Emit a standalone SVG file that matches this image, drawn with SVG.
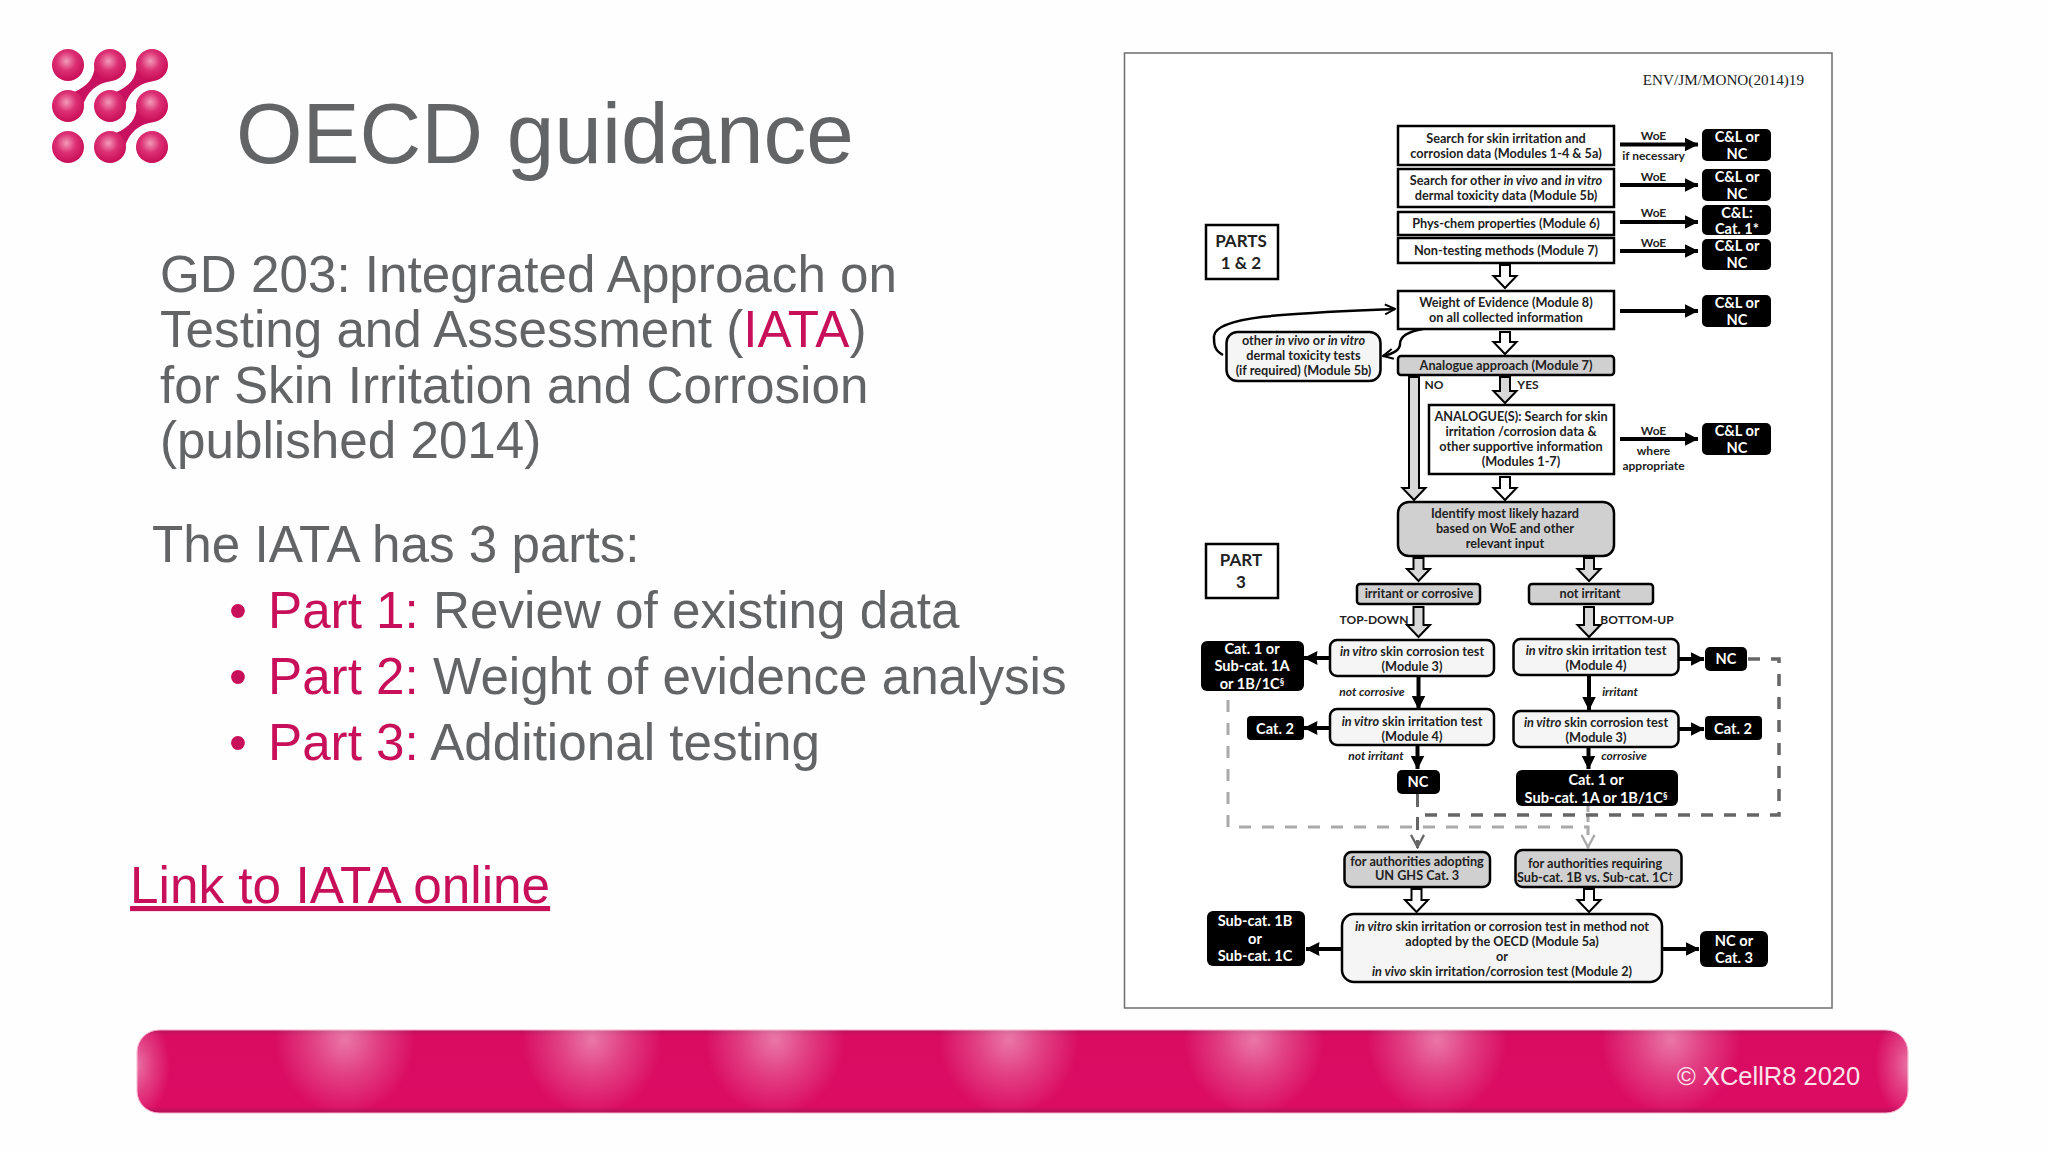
<svg xmlns="http://www.w3.org/2000/svg" width="2048" height="1152" viewBox="0 0 2048 1152">
<defs>
<radialGradient id="ball" cx="0.45" cy="0.38" r="0.6"><stop offset="0" stop-color="#f29ab8"/><stop offset="0.5" stop-color="#dc2f74"/><stop offset="1" stop-color="#c90f58"/></radialGradient>
<linearGradient id="barv" x1="0" y1="0" x2="0" y2="1"><stop offset="0" stop-color="#b9125a"/><stop offset="0.07" stop-color="#d90c62"/><stop offset="0.92" stop-color="#dc0c63"/><stop offset="1" stop-color="#b01258"/></linearGradient>
<radialGradient id="spot"><stop offset="0" stop-color="#fff" stop-opacity="0.44"/><stop offset="0.45" stop-color="#fff" stop-opacity="0.22"/><stop offset="1" stop-color="#fff" stop-opacity="0"/></radialGradient>
<clipPath id="barclip"><rect x="137" y="1030" width="1771" height="83" rx="22"/></clipPath>
<path id="lnk" d="M95 65C94 78 88 86 74 92L82 108C86 96 92 84 112 81Z" fill="#c8125f"/>
<marker id="solid" markerUnits="userSpaceOnUse" viewBox="0 0 14 14" refX="13.500" refY="7" markerWidth="14" markerHeight="14" orient="auto"><path d="M0 0L14 7L0 14L1 7Z" fill="#000"/></marker>
<marker id="open" markerUnits="userSpaceOnUse" viewBox="0 0 12 12" refX="11" refY="6" markerWidth="12" markerHeight="12" orient="auto"><path d="M1 1L11 6L1 11" fill="none" stroke="#000" stroke-width="2"/></marker>
<marker id="openD" markerUnits="userSpaceOnUse" viewBox="0 0 16 16" refX="15" refY="8" markerWidth="15" markerHeight="15" orient="auto"><path d="M1 1L14 8L1 15" fill="none" stroke="#666" stroke-width="2.500"/></marker>
<marker id="openL" markerUnits="userSpaceOnUse" viewBox="0 0 16 16" refX="15" refY="8" markerWidth="15" markerHeight="15" orient="auto"><path d="M1 1L14 8L1 15" fill="none" stroke="#aaa" stroke-width="2.500"/></marker>
</defs>
<style>
.t{font-family:"Liberation Sans",Arial,sans-serif}
.body{font-size:51.200px;fill:#636466}
.pk{fill:#c8105a}
.n{font-family:Lato,"Open Sans",sans-serif;font-size:12.700px;font-weight:700;fill:#222;text-anchor:middle}
.w{font-family:Lato,"Open Sans",sans-serif;font-size:14.600px;font-weight:700;fill:#fff;text-anchor:middle}
.l{font-family:Lato,"Open Sans",sans-serif;font-size:12px;font-weight:700;fill:#222;text-anchor:middle}
.p{font-size:17px}
.i{font-style:italic}
.sup{font-size:9px}
.b{fill:#fff;stroke:#000;stroke-width:2.500}
.g{fill:#d0d0d0;stroke:#000;stroke-width:2.500}
.d{fill:#f5f5f5;stroke:#000;stroke-width:2.500}
.k{fill:#000}
.ar{stroke:#000;stroke-width:4;fill:none;marker-end:url(#solid)}
.h{fill:#fff;stroke:#000;stroke-width:2}
.hg{fill:#d8d8d8;stroke:#000;stroke-width:2}
</style>
<rect width="2048" height="1152" fill="#fefefe"/>

<g id="logo">
<use href="#lnk"/>
<use href="#lnk" x="42"/>
<use href="#lnk" x="42" y="41"/>
<g fill="url(#ball)">
<circle cx="68" cy="65" r="16"/><circle cx="110" cy="65" r="16"/><circle cx="152" cy="65" r="16"/>
<circle cx="68" cy="106" r="16"/><circle cx="110" cy="106" r="16"/><circle cx="152" cy="106" r="16"/>
<circle cx="68" cy="147" r="16"/><circle cx="110" cy="147" r="16"/><circle cx="152" cy="147" r="16"/>
</g>
</g>
<text id="title" class="t" x="236" y="163" font-size="85.500" fill="#636466">OECD guidance</text>
<g id="body">
<text class="t body" x="160" y="292">GD 203: Integrated Approach on</text>
<text class="t body" x="160" y="347">Testing and Assessment (<tspan class="pk">IATA</tspan>)</text>
<text class="t body" x="160" y="403">for Skin Irritation and Corrosion</text>
<text class="t body" x="160" y="458">(published 2014)</text>
<text class="t body" x="152" y="562">The IATA has 3 parts:</text>
<text class="t body" x="229" y="628"><tspan class="pk">•</tspan></text>
<text class="t body" x="268" y="628"><tspan class="pk">Part 1:</tspan> Review of existing data</text>
<text class="t body" x="229" y="694"><tspan class="pk">•</tspan></text>
<text class="t body" x="268" y="694"><tspan class="pk">Part 2:</tspan> Weight of evidence analysis</text>
<text class="t body" x="229" y="760"><tspan class="pk">•</tspan></text>
<text class="t body" x="268" y="760"><tspan class="pk">Part 3:</tspan> Additional testing</text>
<text class="t body" x="130" y="903" style="fill:#c8105a;text-decoration:underline;font-size:51.300px">Link to IATA online</text>
</g>

<g id="footer-bar">
<rect x="137" y="1030" width="1771" height="83" rx="22" fill="url(#barv)" stroke="#f6b0cc" stroke-width="1"/>
<g clip-path="url(#barclip)" fill="url(#spot)">
<ellipse cx="345" cy="1040" rx="70" ry="75"/>
<ellipse cx="592" cy="1040" rx="70" ry="75"/>
<ellipse cx="775" cy="1040" rx="70" ry="75"/>
<ellipse cx="1009" cy="1040" rx="70" ry="75"/>
<ellipse cx="1254" cy="1040" rx="70" ry="75"/>
<ellipse cx="1437" cy="1040" rx="70" ry="75"/>
<ellipse cx="1671" cy="1040" rx="70" ry="75"/>
<ellipse cx="135" cy="1065" rx="35" ry="55"/>
<ellipse cx="1910" cy="1065" rx="35" ry="55"/>
</g>
<text class="t" x="1677" y="1085" font-size="25.500" fill="#fbe3ec">© XCellR8 2020</text>
</g>

<rect id="frame" x="1124.500" y="53" width="707.500" height="955" fill="#fff" stroke="#6e6e6e" stroke-width="1.500"/>
<text id="docref" x="1804" y="85" font-family="Liberation Serif,serif" font-size="15.200" text-anchor="end" fill="#222">ENV/JM/MONO(2014)19</text>

<g id="connectors">
<path class="ar" d="M1620 144.500H1698"/><path class="ar" d="M1620 185H1698"/><path class="ar" d="M1620 222H1698"/><path class="ar" d="M1620 251H1698"/><path class="ar" d="M1620 311H1698"/><path class="ar" d="M1620 439H1698"/>
<path class="h" d="M1500 265h10v11h6.500l-11.500 12l-11.500 -12h6.500z"/>
<path class="h" d="M1500 332h10v10h6.500l-11.500 12l-11.500 -12h6.500z"/>
<path class="hg" d="M1500 377h10v14h6.500l-11.500 12l-11.500 -12h6.500z"/>
<path class="hg" d="M1409 377h10v111h6.500l-11.500 12l-11.500 -12h6.500z"/>
<path class="h" d="M1500 477h10v11h6.500l-11.500 12l-11.500 -12h6.500z"/>
<path class="hg" d="M1413.500 558h10v11h6.500l-11.500 12l-11.500 -12h6.500z"/>
<path class="hg" d="M1584 558h10v11h6.500l-11.500 12l-11.500 -12h6.500z"/>
<path class="hg" d="M1413.500 607h10v18h6.500l-11.500 12l-11.500 -12h6.500z"/>
<path class="hg" d="M1584 607h10v18h6.500l-11.500 12l-11.500 -12h6.500z"/>
<path class="h" d="M1411.500 889h10v11h6.500l-11.500 12l-11.500 -12h6.500z"/>
<path class="h" d="M1584 889h10v11h6.500l-11.500 12l-11.500 -12h6.500z"/>
<path d="M1223 355C1213 350 1214 342 1214 336C1216 315 1300 313 1395 309" fill="none" stroke="#000" stroke-width="2.500" marker-end="url(#open)"/>
<path d="M1423 329C1405 332 1400 338 1400 344C1400 350 1392 354 1383 356" fill="none" stroke="#000" stroke-width="2.500" marker-end="url(#open)"/>
<path class="ar" d="M1330 658H1304"/><path class="ar" d="M1678 659H1704"/>
<path class="ar" d="M1418.500 676V709"/><path class="ar" d="M1589 675V710"/>
<path class="ar" d="M1330 728H1304"/><path class="ar" d="M1678 729H1704"/>
<path class="ar" d="M1417.500 746V769"/><path class="ar" d="M1588.500 747V769"/>
<path class="ar" d="M1342 949H1306"/><path class="ar" d="M1662 949H1699"/>
<path d="M1228 700V827H1588V848" fill="none" stroke="#aaa" stroke-width="3" stroke-dasharray="12 11" marker-end="url(#openL)"/>
<path d="M1588 806V827" fill="none" stroke="#aaa" stroke-width="3" stroke-dasharray="6 4"/>
<path d="M1748 659H1779V815H1419" fill="none" stroke="#666" stroke-width="3.500" stroke-dasharray="12 11"/>
<path d="M1417.500 794V848" fill="none" stroke="#666" stroke-width="3" stroke-dasharray="13 10" marker-end="url(#openD)"/>
</g>

<g id="n-search1"><rect class="b" x="1398" y="126" width="216" height="39"/><text class="n" x="1506" y="143">Search for skin irritation and</text><text class="n" x="1506" y="158">corrosion data (Modules 1-4 &amp; 5a)</text></g>
<g id="n-search2"><rect class="b" x="1398" y="169" width="216" height="38"/><text class="n" x="1506" y="185">Search for other <tspan class="i">in vivo</tspan> and <tspan class="i">in vitro</tspan></text><text class="n" x="1506" y="200">dermal toxicity data (Module 5b)</text></g>
<g id="n-phys"><rect class="b" x="1398" y="212" width="216" height="23"/><text class="n" x="1506" y="228">Phys-chem properties (Module 6)</text></g>
<g id="n-nontest"><rect class="b" x="1398" y="238" width="216" height="25"/><text class="n" x="1506" y="255">Non-testing methods (Module 7)</text></g>
<g id="n-woe"><rect class="b" x="1398" y="291" width="216" height="38"/><text class="n" x="1506" y="307">Weight of Evidence (Module 8)</text><text class="n" x="1506" y="322">on all collected information</text></g>
<g id="n-other"><rect class="d" x="1226.500" y="332" width="154" height="49" rx="11"/><text class="n" x="1303.500" y="345">other <tspan class="i">in vivo</tspan> or <tspan class="i">in vitro</tspan></text><text class="n" x="1303.500" y="360">dermal toxicity tests</text><text class="n" x="1303.500" y="375">(if required) (Module 5b)</text></g>
<g id="n-analogue"><rect class="g" x="1398" y="356" width="216" height="19" rx="3"/><text class="n" x="1506" y="370">Analogue approach (Module 7)</text></g>
<g id="n-analogues"><rect class="b" x="1429" y="405" width="185" height="69"/><text class="n" x="1521" y="421">ANALOGUE(S): Search for skin</text><text class="n" x="1521" y="436">irritation /corrosion data &amp;</text><text class="n" x="1521" y="451">other supportive information</text><text class="n" x="1521" y="466">(Modules 1-7)</text></g>
<g id="n-identify"><rect class="g" x="1398" y="502" width="216" height="54" rx="11"/><text class="n" x="1505" y="518">Identify most likely hazard</text><text class="n" x="1505" y="533">based on WoE and other</text><text class="n" x="1505" y="548">relevant input</text></g>
<g id="n-irr"><rect class="g" x="1357" y="584" width="123" height="20" rx="3"/><text class="n" x="1419" y="598">irritant or corrosive</text></g>
<g id="n-notirr"><rect class="g" x="1529" y="584" width="124" height="20" rx="3"/><text class="n" x="1590" y="598">not irritant</text></g>
<g id="n-parts12"><rect class="b" x="1206" y="225" width="72" height="54"/><text class="n p" x="1241" y="247">PARTS</text><text class="n p" x="1241" y="269">1 &amp; 2</text></g>
<g id="n-part3"><rect class="b" x="1206" y="544" width="72" height="54"/><text class="n p" x="1241" y="566">PART</text><text class="n p" x="1241" y="588">3</text></g>
<g id="n-cl1"><rect class="k" x="1702" y="129" width="69" height="32" rx="5"/><text class="w" x="1737" y="142">C&amp;L or</text><text class="w" x="1737" y="159">NC</text></g>
<g id="n-cl2"><rect class="k" x="1702" y="169" width="69" height="32" rx="5"/><text class="w" x="1737" y="182">C&amp;L or</text><text class="w" x="1737" y="199">NC</text></g>
<g id="n-cl3"><rect class="k" x="1702" y="205" width="69" height="30" rx="5"/><text class="w" x="1737" y="218">C&amp;L:</text><text class="w" x="1737" y="234">Cat. 1*</text></g>
<g id="n-cl4"><rect class="k" x="1702" y="239" width="69" height="31" rx="5"/><text class="w" x="1737" y="251">C&amp;L or</text><text class="w" x="1737" y="268">NC</text></g>
<g id="n-cl5"><rect class="k" x="1702" y="295" width="69" height="32" rx="5"/><text class="w" x="1737" y="308">C&amp;L or</text><text class="w" x="1737" y="325">NC</text></g>
<g id="n-cl6"><rect class="k" x="1702" y="423" width="69" height="32" rx="5"/><text class="w" x="1737" y="436">C&amp;L or</text><text class="w" x="1737" y="453">NC</text></g>
<g id="labels">
<text class="l" x="1653.500" y="140">WoE</text><text class="l" x="1653.500" y="160">if necessary</text><text class="l" x="1653.500" y="181">WoE</text><text class="l" x="1653.500" y="217">WoE</text><text class="l" x="1653.500" y="247">WoE</text><text class="l" x="1653.500" y="435">WoE</text><text class="l" x="1653.500" y="455">where</text><text class="l" x="1653.500" y="470">appropriate</text>
<text class="l" x="1434" y="389">NO</text><text class="l" x="1528" y="389">YES</text>
<text class="l" x="1374" y="624">TOP-DOWN</text><text class="l" x="1637" y="624">BOTTOM-UP</text>
<text class="l i" x="1372" y="696">not corrosive</text><text class="l i" x="1620" y="696">irritant</text>
<text class="l i" x="1376" y="760">not irritant</text><text class="l i" x="1624" y="760">corrosive</text>
</g>
<g id="n-vcorr1"><rect class="d" x="1330" y="640" width="164" height="36" rx="7"/><text class="n" x="1412" y="656"><tspan class="i">in vitro</tspan> skin corrosion test</text><text class="n" x="1412" y="671">(Module 3)</text></g>
<g id="n-virr1"><rect class="d" x="1513.500" y="639" width="165" height="36" rx="7"/><text class="n" x="1596" y="655"><tspan class="i">in vitro</tspan> skin irritation test</text><text class="n" x="1596" y="670">(Module 4)</text></g>
<g id="n-virr2"><rect class="d" x="1330" y="709" width="164" height="36" rx="7"/><text class="n" x="1412" y="726"><tspan class="i">in vitro</tspan> skin irritation test</text><text class="n" x="1412" y="741">(Module 4)</text></g>
<g id="n-vcorr2"><rect class="d" x="1513.500" y="711" width="165" height="36" rx="7"/><text class="n" x="1596" y="727"><tspan class="i">in vitro</tspan> skin corrosion test</text><text class="n" x="1596" y="742">(Module 3)</text></g>
<g id="n-cat1l"><rect class="k" x="1201" y="641" width="103" height="50" rx="6"/><text class="w" x="1252" y="654">Cat. 1 or</text><text class="w" x="1252" y="671">Sub-cat. 1A</text><text class="w" x="1252" y="689">or 1B/1C<tspan class="sup" dy="-4">§</tspan></text></g>
<g id="n-cat2l"><rect class="k" x="1247" y="716" width="57" height="24" rx="4"/><text class="w" x="1275" y="734">Cat. 2</text></g>
<g id="n-nc1"><rect class="k" x="1705" y="647" width="42" height="24" rx="5"/><text class="w" x="1726" y="664">NC</text></g>
<g id="n-cat2r"><rect class="k" x="1705" y="716" width="57" height="24" rx="4"/><text class="w" x="1733" y="734">Cat. 2</text></g>
<g id="n-nc2"><rect class="k" x="1397" y="770" width="43" height="24" rx="5"/><text class="w" x="1418" y="787">NC</text></g>
<g id="n-cat1r"><rect class="k" x="1516" y="770" width="162" height="36" rx="6"/><text class="w" x="1596" y="785">Cat. 1 or</text><text class="w" x="1596" y="803">Sub-cat. 1A or 1B/1C<tspan class="sup" dy="-4">§</tspan></text></g>
<g id="n-auth1"><rect class="g" x="1344.500" y="852" width="145.500" height="35" rx="7"/><text class="n" x="1417" y="866">for authorities adopting</text><text class="n" x="1417" y="880">UN GHS Cat. 3</text></g>
<g id="n-auth2"><rect class="g" x="1515.500" y="850" width="166" height="37" rx="7"/><text class="n" x="1595" y="868">for authorities requiring</text><text class="n" x="1595" y="882">Sub-cat. 1B vs. Sub-cat. 1C<tspan class="sup" dy="-3">†</tspan></text></g>
<g id="n-final"><rect class="d" x="1342" y="914" width="320" height="68" rx="12"/><text class="n" x="1502" y="931"><tspan class="i">in vitro</tspan> skin irritation or corrosion test in method not</text><text class="n" x="1502" y="946">adopted by the OECD (Module 5a)</text><text class="n" x="1502" y="961">or</text><text class="n" x="1502" y="976"><tspan class="i">in vivo</tspan> skin irritation/corrosion test (Module 2)</text></g>
<g id="n-sub"><rect class="k" x="1207" y="911" width="98" height="55" rx="6"/><text class="w" x="1255" y="926">Sub-cat. 1B</text><text class="w" x="1255" y="944">or</text><text class="w" x="1255" y="961">Sub-cat. 1C</text></g>
<g id="n-nccat3"><rect class="k" x="1700" y="931" width="68" height="36" rx="6"/><text class="w" x="1734" y="946">NC or</text><text class="w" x="1734" y="963">Cat. 3</text></g>
</svg>
